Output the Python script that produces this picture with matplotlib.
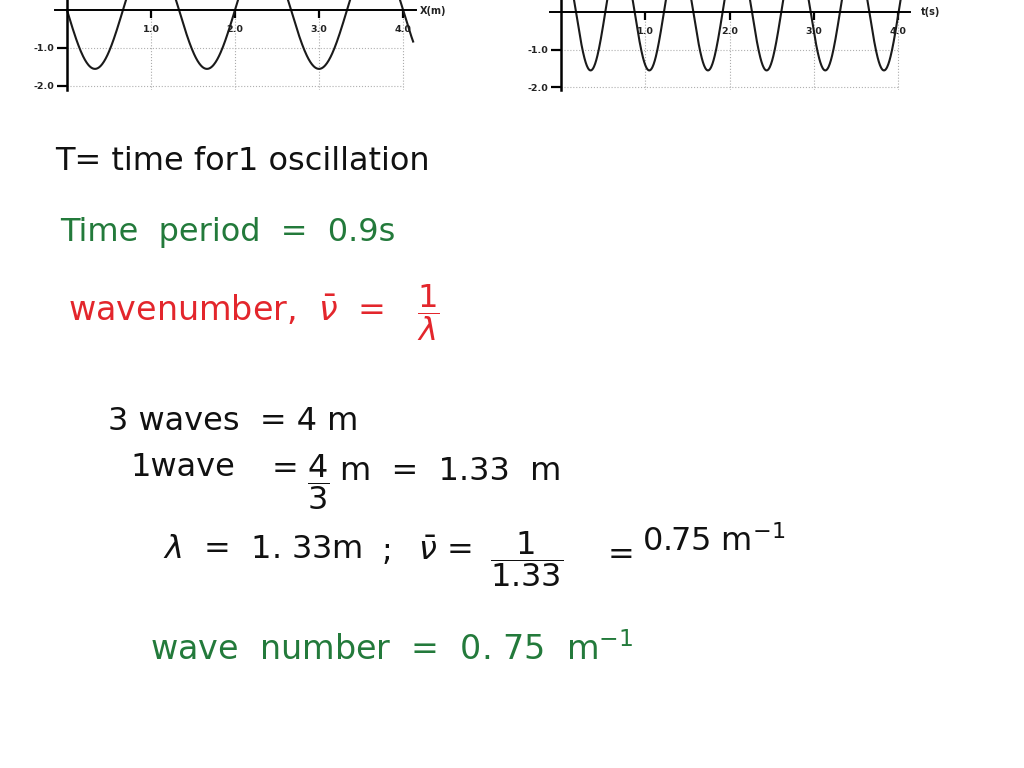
import numpy as np
import matplotlib
matplotlib.use("Agg")
import matplotlib.pyplot as plt

plt.rcParams['font.family'] = ['DejaVu Sans']
plt.rcParams['mathtext.fontset'] = 'dejavusans'

# wave
amplitude = 1.55          # depth of the troughs
wavelength = 4 / 3        # 3 waves in 4 m
x_end = 4.12
period = 0.696            # trough spacing on the t(s) graph
t_first_cross = 0.178     # first downward zero crossing
t_end = 4.05

x_ticks = [1.0, 2.0, 3.0, 4.0]
y_ticks = [-1.0, -2.0]

black = '#111111'
green = '#237a3b'
red = '#e3262c'

fig = plt.figure(figsize=(10.24, 7.68), dpi=100)
fig.patch.set_facecolor('white')


def wave_axes(rect, xlim, ylim, xlabel, label_xy):
    ax = fig.add_axes(rect)
    ax.set_xlim(*xlim)
    ax.set_ylim(*ylim)
    for side in ['top', 'right']:
        ax.spines[side].set_visible(False)
    ax.spines['left'].set_position(('data', 0))
    ax.spines['bottom'].set_position(('data', 0))
    ax.spines['left'].set_linewidth(1.8)
    ax.spines['bottom'].set_linewidth(1.4)
    ax.spines['left'].set_bounds(ylim[0], ylim[1])
    ax.set_xticks(x_ticks)
    ax.set_yticks(y_ticks)
    ax.set_xticklabels([f'{v:.1f}' for v in x_ticks], fontsize=6.8, fontweight='bold', color='#222222')
    ax.set_yticklabels([f'{v:.1f}' for v in y_ticks], fontsize=6.8, fontweight='bold', color='#222222')
    ax.tick_params(axis='x', direction='out', length=6, width=1.6, pad=5)
    ax.tick_params(axis='y', direction='out', length=7, width=1.6, pad=2)
    for v in x_ticks:
        ax.axvline(v, ymin=0, ymax=(0 - ylim[0]) / (ylim[1] - ylim[0]), color='#aaaaaa', lw=0.8, ls=':', zorder=0)
    for v in y_ticks:
        ax.plot([0, x_ticks[-1]], [v, v], color='#b0b0b0', lw=0.8, ls=':', zorder=0)
    ax.patch.set_alpha(0)
    fig.text(label_xy[0], label_xy[1], xlabel, fontsize=7, fontweight='bold', color='#222222',
             ha='left', va='center')
    return ax


ax1 = wave_axes([0.0539, 0.8831, 0.3520, 0.188], (-0.14, 4.15), (-2.1, 1.7), 'X(m)', (420 / 1024, 1 - 11 / 768))
x = np.linspace(0, x_end, 600)
ax1.plot(x, -amplitude * np.sin(2 * np.pi * x / wavelength), color='#1a1a1a', lw=1.5, clip_on=False)

ax2 = wave_axes([0.5371, 0.8823, 0.3515, 0.1854], (-0.13, 4.14), (-2.08, 1.7), 't(s)', (921 / 1024, 1 - 12 / 768))
t = np.linspace(0, t_end, 900)
ax2.plot(t, -amplitude * np.sin(2 * np.pi * (t - t_first_cross) / period), color='#1a1a1a', lw=1.5, clip_on=False)

# handwritten notes, placed in pixel coordinates on an overlay
notes = fig.add_axes([0, 0, 1, 1])
notes.set_xlim(0, 1024)
notes.set_ylim(768, 0)
notes.axis('off')
notes.patch.set_alpha(0)

fs = 23
notes.text(55, 162, 'T= time for1 oscillation', fontsize=fs, color=black, va='center')
notes.text(60, 232, 'Time  period  =  0.9s', fontsize=fs, color=green, va='center')
notes.text(68, 310, r'wavenumber,  $\bar{\nu}$  =', fontsize=24, color=red, va='center')
notes.text(428, 313, r'$\dfrac{1}{\lambda}$', fontsize=fs, color=red, ha='center', va='center')

notes.text(108, 421, '3 waves  = 4 m', fontsize=fs, color=black, va='center')
notes.text(130, 467, '1wave', fontsize=fs, color=black, va='center')
notes.text(272, 470, '=', fontsize=fs, color=black, va='center')
notes.text(318, 482, r'$\dfrac{4}{3}$', fontsize=fs, color=black, ha='center', va='center')
notes.text(340, 472, 'm  =  1.33  m', fontsize=fs, color=black, va='center')

notes.text(163, 550, r'$\lambda$  =  1. 33m', fontsize=fs, color=black, va='center')
notes.text(382, 552, ';', fontsize=fs, color=black, va='center')
notes.text(418, 552, r'$\bar{\nu}$ =', fontsize=fs, color=black, va='center')
notes.text(527, 559, r'$\dfrac{1}{1.33}$', fontsize=fs, color=black, ha='center', va='center')
notes.text(608, 556, '=', fontsize=fs, color=black, va='center')
notes.text(642, 542, r'0.75 m$^{-1}$', fontsize=fs, color=black, va='center')

notes.text(150, 650, r'wave  number  =  0. 75  m$^{-1}$', fontsize=24, color=green, va='center')

fig.savefig('out.png', dpi=100, facecolor='white')
